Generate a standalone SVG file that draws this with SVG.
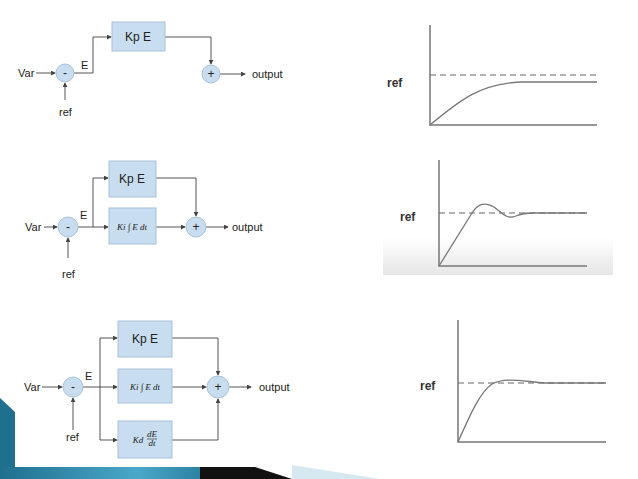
<svg xmlns="http://www.w3.org/2000/svg" width="638" height="479" viewBox="0 0 638 479">
<defs>
<marker id="ar" viewBox="0 0 6 6" refX="5" refY="3" markerWidth="5" markerHeight="5" orient="auto"><path d="M0,0L6,3L0,6z" fill="#444"/></marker>
<linearGradient id="blu" x1="0" y1="0" x2="1" y2="0"><stop offset="0" stop-color="#1f6f8f"/><stop offset="0.6" stop-color="#4aa8c8"/><stop offset="1" stop-color="#1d6f8e"/></linearGradient>
<linearGradient id="gr" x1="0" y1="0" x2="0" y2="1"><stop offset="0" stop-color="#fff"/><stop offset="1" stop-color="#e6e6e6"/></linearGradient>
<style>
.ln{stroke:#555;stroke-width:1;fill:none}
.a{marker-end:url(#ar)}
.bx{fill:#c8ddef;stroke:#a8c2d8;stroke-width:1}
.c{fill:#c8ddef;stroke:#a8c2d8;stroke-width:1}
.t{font-family:"Liberation Sans",Arial,sans-serif;font-size:11px;fill:#222}
.k{font-family:"Liberation Sans",Arial,sans-serif;font-size:12px;fill:#222;text-anchor:middle}
.m{font-family:"Liberation Serif",serif;font-style:italic;font-size:9px;fill:#222;text-anchor:middle}
.r{font-family:"Liberation Sans",Arial,sans-serif;font-size:12px;font-weight:bold;fill:#333}
.ax{stroke:#777;stroke-width:1.5;fill:none}
.d{stroke:#666;stroke-width:1;stroke-dasharray:6,4;fill:none}
.cv{stroke:#777;stroke-width:1.3;fill:none}
</style>
</defs>
<rect width="638" height="479" fill="#fff"/>
<rect x="383" y="238" width="230" height="37" fill="url(#gr)"/>
<g id="deco">
<path d="M0,398L15,412L15,467L0,467z" fill="#1f6f8f"/>
<rect x="0" y="467" width="230" height="12" fill="url(#blu)"/>
<path d="M200,467L255,467L292,479L200,479z" fill="#111"/>
<path d="M292,465L380,479L292,479z" fill="#d6e8f0"/>
</g>
<g id="connectors">
<path class="ln a" d="M36,73H55"/><path class="ln a" d="M65,100V83"/>
<path class="ln a" d="M74,73H93V37H111"/><path class="ln a" d="M165,37H211V64"/>
<path class="ln a" d="M220,74H245"/>
<path class="ln a" d="M44,227H57"/><path class="ln a" d="M68,258V238"/>
<path class="ln" d="M78,227H93V178"/><path class="ln a" d="M93,178H108"/><path class="ln a" d="M93,227H108"/>
<path class="ln" d="M156,227H172"/><path class="ln a" d="M172,227H185"/>
<path class="ln a" d="M156,178H196V216"/><path class="ln a" d="M206,227H228"/>
<path class="ln a" d="M42,387H62"/><path class="ln a" d="M73,430V398"/>
<path class="ln" d="M83,387H100"/><path class="ln" d="M100,338V440"/>
<path class="ln a" d="M100,338H117"/><path class="ln a" d="M100,387H117"/><path class="ln a" d="M100,440H117"/>
<path class="ln a" d="M172,338H218V375"/><path class="ln a" d="M172,387H206"/><path class="ln a" d="M172,440H218V399"/>
<path class="ln a" d="M229,387H251"/>
</g>
<g id="d1">
<text class="t" x="18" y="77">Var</text><text class="t" x="81" y="69">E</text><text class="t" x="59" y="116">ref</text>
<circle class="c" cx="65" cy="73" r="9"/><text class="k" x="65" y="77" font-size="9">-</text>
<rect class="bx" x="112" y="22" width="53" height="29"/><text class="k" x="138" y="41">Kp E</text>
<circle class="c" cx="211" cy="74" r="9"/><text class="k" x="211" y="78" font-size="9">+</text>
<text class="t" x="252" y="78">output</text>
</g>
<g id="d2">
<text class="t" x="25" y="231">Var</text><text class="t" x="80" y="219">E</text><text class="t" x="62" y="278">ref</text>
<circle class="c" cx="68" cy="227" r="10"/><text class="k" x="68" y="231" font-size="9">-</text>
<rect class="bx" x="109" y="161" width="47" height="36"/><text class="k" x="132" y="183">Kp E</text>
<rect class="bx" x="109" y="208" width="47" height="36"/><text class="m" x="132" y="230">Ki ∫ E dt</text>
<circle class="c" cx="196" cy="227" r="10"/><text class="k" x="196" y="231" font-size="9">+</text>
<text class="t" x="232" y="231">output</text>
</g>
<g id="d3">
<text class="t" x="24" y="391">Var</text><text class="t" x="85" y="380">E</text><text class="t" x="66" y="441">ref</text>
<circle class="c" cx="73" cy="387" r="10"/><text class="k" x="73" y="391" font-size="9">-</text>
<rect class="bx" x="118" y="321" width="54" height="36"/><text class="k" x="145" y="343">Kp E</text>
<rect class="bx" x="118" y="369" width="54" height="34"/><text class="m" x="145" y="390">Ki ∫ E dt</text>
<rect class="bx" x="118" y="421" width="54" height="37"/>
<text class="m" x="138" y="443">Kd</text><text class="m" x="152" y="437" font-size="7">dE</text><path d="M147,439H157" stroke="#222" stroke-width="0.6"/><text class="m" x="152" y="446" font-size="7">dt</text>
<circle class="c" cx="218" cy="387" r="11"/><text class="k" x="218" y="391" font-size="9">+</text>
<text class="t" x="259" y="391">output</text>
</g>
<g id="g1">
<path class="ax" d="M430,25V125H597"/><path class="d" d="M430,75H597"/>
<path class="cv" d="M430,125C460,100 480,84 520,82H597"/>
<text class="r" x="387" y="87">ref</text>
</g>
<g id="g2">
<path class="ax" d="M439,160V266H587"/><path class="d" d="M439,213H587"/>
<path class="cv" d="M439,266L472,213C478,203 486,202 494,207C502,213 507,220 516,216C522,213 527,213 535,213H587"/>
<text class="r" x="400" y="221">ref</text>
</g>
<g id="g3">
<path class="ax" d="M458,320V442H606"/><path class="d" d="M458,383H606"/>
<path class="cv" d="M458,442C470,415 480,392 492,384C505,377 520,381 545,383H606"/>
<text class="r" x="420" y="390">ref</text>
</g>
</svg>
